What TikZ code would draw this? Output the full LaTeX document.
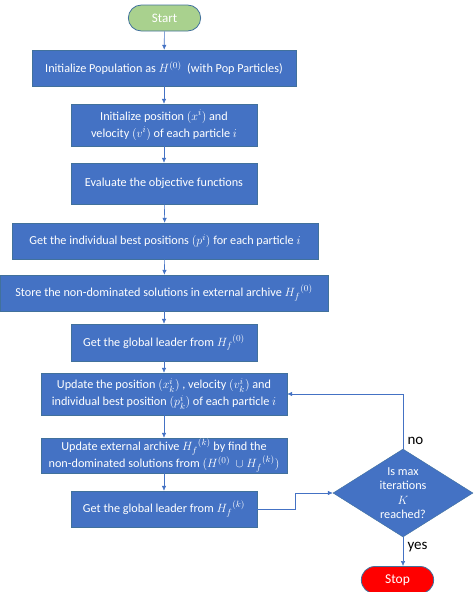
\documentclass[tikz,border=0pt]{standalone}
\usepackage{fontspec}
\setmainfont{Carlito}
\usetikzlibrary{shapes.geometric, shapes.misc, arrows.meta, calc}
\definecolor{boxblue}{HTML}{4472C4}
\definecolor{edgeblue}{HTML}{41719C}
\definecolor{startgreen}{HTML}{A9D18E}
\definecolor{stopred}{HTML}{FF0000}

\begin{document}
\begin{tikzpicture}[x=1pt, y=-1pt,
    proc/.style={rectangle, draw=edgeblue, fill=boxblue, text=white, align=center, font=\fontsize{12.2}{17}\selectfont, inner sep=0pt},
    term/.style={rounded rectangle, draw=edgeblue, thick, text=white, font=\fontsize{13}{15}\selectfont, minimum width=79, minimum height=26},
    arr/.style={-{Latex[length=5pt, width=4.5pt]}, boxblue, semithick}]
\useasboundingbox (0,0) rectangle (474,592);

% Terminals
\node[term, fill=startgreen] (start) at (164.5,18) {Start};
\node[term, fill=stopred, minimum height=27, font=\fontsize{13.5}{15}\selectfont] (stop) at (397.5,580) {Stop};

% Process boxes
\node[proc, minimum width=264, minimum height=36] (pop) at (164,68) {Initialize Population as $H^{(0)}$\ \ (with Pop Particles)};
\node[proc, minimum width=186, minimum height=42] (init) at (164,125) {Initialize position $\bigl(x^{i}\bigr)$ and\\ velocity $\bigl(v^{i}\bigr)$ of each particle $i$};
\node[proc, minimum width=186, minimum height=41] (eval) at (164,183.5) {Evaluate the objective functions};
\node[proc, minimum width=306, minimum height=36] (pbest) at (165,241) {Get the individual best positions $(p^{i})$ for each particle $i$};
\node[proc, minimum width=328, minimum height=36] (store) at (164,293) {Store the non-dominated solutions in external archive ${H_f}^{(0)}$};
\node[proc, minimum width=186, minimum height=37] (lead0) at (164,342.5) {Get the global leader from ${H_f}^{(0)}$};
\node[proc, minimum width=246, minimum height=42] (upd) at (164,394) {Update the position $(x_k^{i})$ , velocity $(v_k^{i})$ and\\ individual best position $(p_k^{i})$ of each particle $i$};
\node[proc, minimum width=246, minimum height=35] (arch) at (164,455.5) {Update external archive ${H_f}^{(k)}$ by find the\\ non-dominated solutions from $(H^{(0)}\ \cup {H_f}^{(k)})$};
\node[proc, minimum width=186, minimum height=36] (leadk) at (164,509) {Get the global leader from ${H_f}^{(k)}$};

% Decision
\node[diamond, draw=edgeblue, fill=boxblue, text=white, align=center, minimum width=140, minimum height=88, inner sep=0pt, aspect=1.6, font=\fontsize{12.2}{14.5}\selectfont] (dec) at (403,493) {Is max\\ iterations\\ $K$\\ reached?};

% Flow
\draw[arr] (start) -- (pop);
\draw[arr] (pop) -- (init);
\draw[arr] (init) -- (eval);
\draw[arr] (eval) -- (pbest);
\draw[arr] (pbest) -- (store);
\draw[arr] (store) -- (lead0);
\draw[arr] (lead0) -- (upd);
\draw[arr] (upd) -- (arch);
\draw[arr] (arch) -- (leadk);
\draw[arr] (leadk.east) -- ++(38,0) |- (dec.west);
\draw[arr] (dec.north) |- (upd.east);
\draw[arr] (dec.south) -- (dec.south |- stop.north);

% Labels
\node[font=\fontsize{15}{17}\selectfont, anchor=west] (no) at (404,441) {no};
\node[font=\fontsize{15}{17}\selectfont, anchor=west] (yes) at (404,547) {yes};
\end{tikzpicture}
\end{document}
